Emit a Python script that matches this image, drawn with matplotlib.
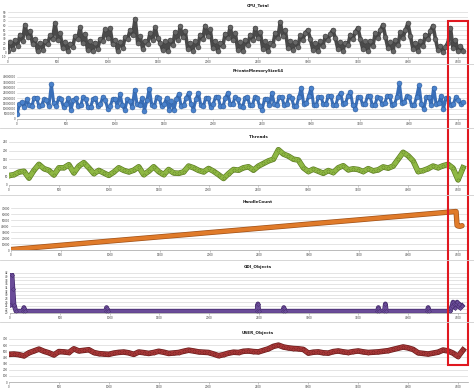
import numpy as np
import matplotlib.pyplot as plt
import matplotlib.patheffects as pe
from matplotlib.patches import Rectangle
from matplotlib.lines import Line2D

# ---- data ----
x_ticks = list(range(0, 5000, 500))

# CPU_Total, sampled every 25
cpu_total = [
    4, 24, 8, 28, 15, 40, 25, 62, 35, 48,
    20, 30, 3, 22, 6, 26, 18, 38, 30, 66,
    28, 44, 10, 24, 4, 20, 12, 36, 30, 56,
    22, 42, 5, 26, 3, 22, 8, 30, 26, 52,
    32, 54, 18, 28, 4, 24, 10, 34, 30, 50,
    38, 75, 22, 36, 8, 26, 20, 44, 28, 56,
    32, 22, 5, 25, 3, 28, 16, 46, 28, 58,
    34, 48, 8, 22, 4, 25, 12, 40, 30, 60,
    36, 52, 10, 26, 3, 22, 14, 42, 32, 57,
    28, 44, 6, 24, 3, 28, 16, 40, 28, 55,
    32, 46, 8, 25, 4, 22, 16, 44, 32, 68,
    36, 50, 10, 26, 5, 24, 12, 38, 28, 44,
    50, 30, 6, 22, 3, 25, 14, 36, 28, 42,
    50, 32, 8, 24, 4, 22, 16, 40, 30, 46,
    55, 30, 7, 25, 3, 26, 15, 44, 32, 50,
    62, 35, 10, 24, 4, 28, 16, 46, 32, 50,
    65, 36, 8, 22, 3, 25, 14, 40, 30, 48,
    60, 30, 5, 15, 2, 12, 22, 55, 10, 28,
    3, 14, 4,
]
cpu_x = np.arange(len(cpu_total)) * 25

# PrivateMemorySize64 in millions, sampled every 25
private_mem = [
    4.5, 14, 16, 11, 19, 13, 12, 20, 20, 12, 13, 19, 18, 12, 33, 15, 12, 20, 19, 11,
    14, 20, 8.5, 18, 20, 12, 13, 21, 19, 11, 11, 19, 20, 12, 14, 21, 18, 10, 12, 19,
    19, 12, 24, 13, 8.5, 19, 17, 11, 28, 14, 13, 20, 8, 18, 29, 13, 12, 21, 20, 12,
    14, 20, 9, 17, 8.5, 19, 24, 12, 13, 20, 25, 14, 9, 19, 25, 13, 12, 20, 20, 11,
    14, 21, 21, 12, 12, 20, 25, 14, 14, 21, 19, 12, 11, 20, 21, 13, 13, 21, 20, 12,
    9, 19, 19, 13, 25, 14, 13, 21, 21, 13, 14, 22, 20, 12, 12, 21, 30, 14, 15, 22,
    30, 13, 13, 21, 21, 14, 14, 22, 22, 13, 13, 21, 25, 14, 15, 22, 26, 13, 9.5, 21,
    21, 14, 14, 22, 22, 13, 13, 21, 20, 14, 15, 22, 22, 13, 14, 21, 34, 15, 16, 22,
    21, 13, 13, 21, 32, 14, 9.5, 21, 21, 13, 30, 14, 15, 22, 9.5, 20, 20, 13, 14, 21,
    18, 14, 16,
]
mem_x = np.arange(len(private_mem)) * 25

threads = [
    55, 60, 75, 80, 40, 85, 120, 95, 85, 58,
    100, 100, 118, 70, 110, 130, 100, 66, 85, 70,
    56, 75, 100, 85, 76, 86, 106, 60, 80, 106,
    78, 60, 90, 70, 68, 76, 110, 100, 85, 76,
    96, 80, 60, 38, 66, 90, 86, 100, 106, 86,
    110, 125, 140, 150, 205, 180, 168, 150, 145, 100,
    78, 92, 80, 68, 84, 72, 100, 112, 88, 94,
    90, 78, 95, 82, 88, 105, 98, 110, 150, 190,
    170, 140, 78, 84, 95, 110, 100, 112, 120, 98,
    30, 100,
]
threads_x = np.arange(len(threads)) * 50

handle_x = [0, 250, 500, 750, 1000, 1250, 1500, 1750, 2000, 2250, 2500,
            2750, 3000, 3250, 3500, 3750, 4000, 4250, 4480,
            4490, 4500, 4520, 4540]
handle_count = [800, 4300, 7900, 11400, 15000, 18500, 22000, 25500, 29100,
                32600, 36200, 39700, 43300, 46800, 50300, 53900, 57400,
                60900, 64200, 41000, 40000, 39500, 40500]

gdi_x = [0, 10, 20, 30, 40, 60, 130, 140, 150, 960, 970, 980,
         2480, 2490, 2500, 2740, 2750, 2760, 3690, 3700, 3710,
         3760, 3770, 3780, 4190, 4200, 4210, 4420, 4440, 4450,
         4460, 4470, 4480, 4490, 4500, 4510, 4520, 4540]
gdi_objects = [24.5, 41.5, 41, 33, 24.5, 21, 21, 23, 21, 21, 23, 21,
               21, 25, 21, 21, 23, 21, 21, 23, 21,
               21, 25, 21, 21, 23, 21, 21, 24, 26,
               25, 23, 25, 26, 24, 25, 23, 24]

user_objects = [
    450, 455, 445, 425, 475, 505, 535, 500, 475, 440,
    495, 490, 480, 540, 505, 515, 525, 480, 462, 455,
    450, 470, 482, 488, 475, 450, 488, 478, 465, 480,
    500, 485, 465, 472, 480, 500, 518, 505, 490, 485,
    480, 455, 428, 445, 470, 485, 480, 500, 505, 495,
    490, 515, 540, 580, 600, 570, 555, 545, 540, 530,
    470, 485, 490, 475, 470, 495, 505, 490, 480, 495,
    505, 490, 480, 485, 490, 500, 510, 530, 550, 570,
    555, 530, 475, 465, 455, 470, 485, 520, 505, 470,
    415, 520,
]
user_x = np.arange(len(user_objects)) * 50

# ---- figure ----
W, H = 474, 389
fig = plt.figure(figsize=(W / 100, H / 100), dpi=100)
fig.patch.set_facecolor('white')


def panel(left, top, bottom, title, title_y, yticks, ylabels):
    ax = fig.add_axes([left / W, 1 - bottom / H, (468 - left) / W, (bottom - top) / H])
    ax.set_xlim(0, 4600)
    ax.set_ylim(yticks[0], yticks[-1])
    ax.set_xticks(x_ticks)
    ax.set_xticklabels([str(t) for t in x_ticks], fontsize=2, color='#404040')
    ax.set_yticks(yticks)
    ax.set_yticklabels(ylabels, fontsize=2, color='#404040')
    ax.tick_params(axis='y', length=0, pad=1)
    ax.tick_params(axis='x', length=1.2, width=0.4, color='#a0a0a0', pad=0.8)
    ax.grid(axis='y', color='#d9d9d9', lw=0.5)
    ax.set_axisbelow(True)
    for s in ['left', 'right', 'top']:
        ax.spines[s].set_visible(False)
    ax.spines['bottom'].set_color('#a0a0a0')
    ax.spines['bottom'].set_linewidth(0.5)
    fig.text(258 / W, 1 - title_y / H, title, ha='center', va='center',
             fontsize=3, fontweight='bold', color='#202020')
    return ax


def worm(ax, x, y, face, edge, lw=3.0, ms=2.3, marker='o'):
    # thick outlined line, then small markers on top
    ax.plot(x, y, color=face, lw=lw, solid_joinstyle='round',
            path_effects=[pe.Stroke(linewidth=lw + 1.0, foreground=edge), pe.Normal()])
    ax.plot(x, y, ls='none', marker=marker, ms=ms, mfc=face, mec=edge, mew=0.3)


cpu_ticks = list(range(-10, 100, 10))
ax = panel(7.5, 12, 57, 'CPU_Total', 5, cpu_ticks, [str(t) for t in cpu_ticks])
ax.plot(cpu_x, cpu_total, color='#4a4a4a', lw=2.6, marker='o', ms=3.6,
        mfc='#666666', mec='#2e2e2e', mew=0.3, solid_joinstyle='round')

mem_ticks = list(range(0, 45, 5))
ax = panel(17, 77, 119, 'PrivateMemorySize64', 71, mem_ticks,
           [str(t * 1000000) for t in mem_ticks])
ax.plot(mem_x, private_mem, color='#3a6fb8', lw=2.2, marker='o', ms=3.6,
        mfc='#4a82cc', mec='#24508c', mew=0.3, solid_joinstyle='round')

th_ticks = list(range(0, 300, 50))
ax = panel(9, 142, 185, 'Threads', 137, th_ticks, [str(t) for t in th_ticks])
worm(ax, threads_x, threads, '#8fb844', '#5d7d24')

hc_ticks = list(range(0, 80000, 10000))
ax = panel(11, 208, 250, 'HandleCount', 202, hc_ticks, [str(t) for t in hc_ticks])
ax.plot(handle_x, handle_count, color='#e07b2a', lw=2.8,
        solid_capstyle='round',
        path_effects=[pe.Stroke(linewidth=3.8, foreground='#a0521a'), pe.Normal()])

gdi_ticks = list(range(20, 44, 2))
ax = panel(10, 273, 313, 'GDI_Objects', 267, gdi_ticks, [str(t) for t in gdi_ticks])
worm(ax, gdi_x, gdi_objects, '#6a4c98', '#432a6a', lw=2.4, ms=2.2, marker='D')

us_ticks = list(range(0, 800, 100))
ax = panel(9, 339, 382, 'USER_Objects', 333, us_ticks, [str(t) for t in us_ticks])
worm(ax, user_x, user_objects, '#a83838', '#6a1c1c')

# chart borders between the stacked charts
for yp in [64, 128, 195, 260, 322]:
    fig.add_artist(Line2D([0, 1], [1 - yp / H, 1 - yp / H], transform=fig.transFigure,
                          color='#d0d0d0', lw=0.6))

# red highlight box
fig.add_artist(Rectangle((448 / W, 1 - 365 / H), 20 / W, 344 / H,
                         transform=fig.transFigure, fill=False,
                         edgecolor='#e01820', lw=1.5))

fig.savefig('out.png', dpi=100)
